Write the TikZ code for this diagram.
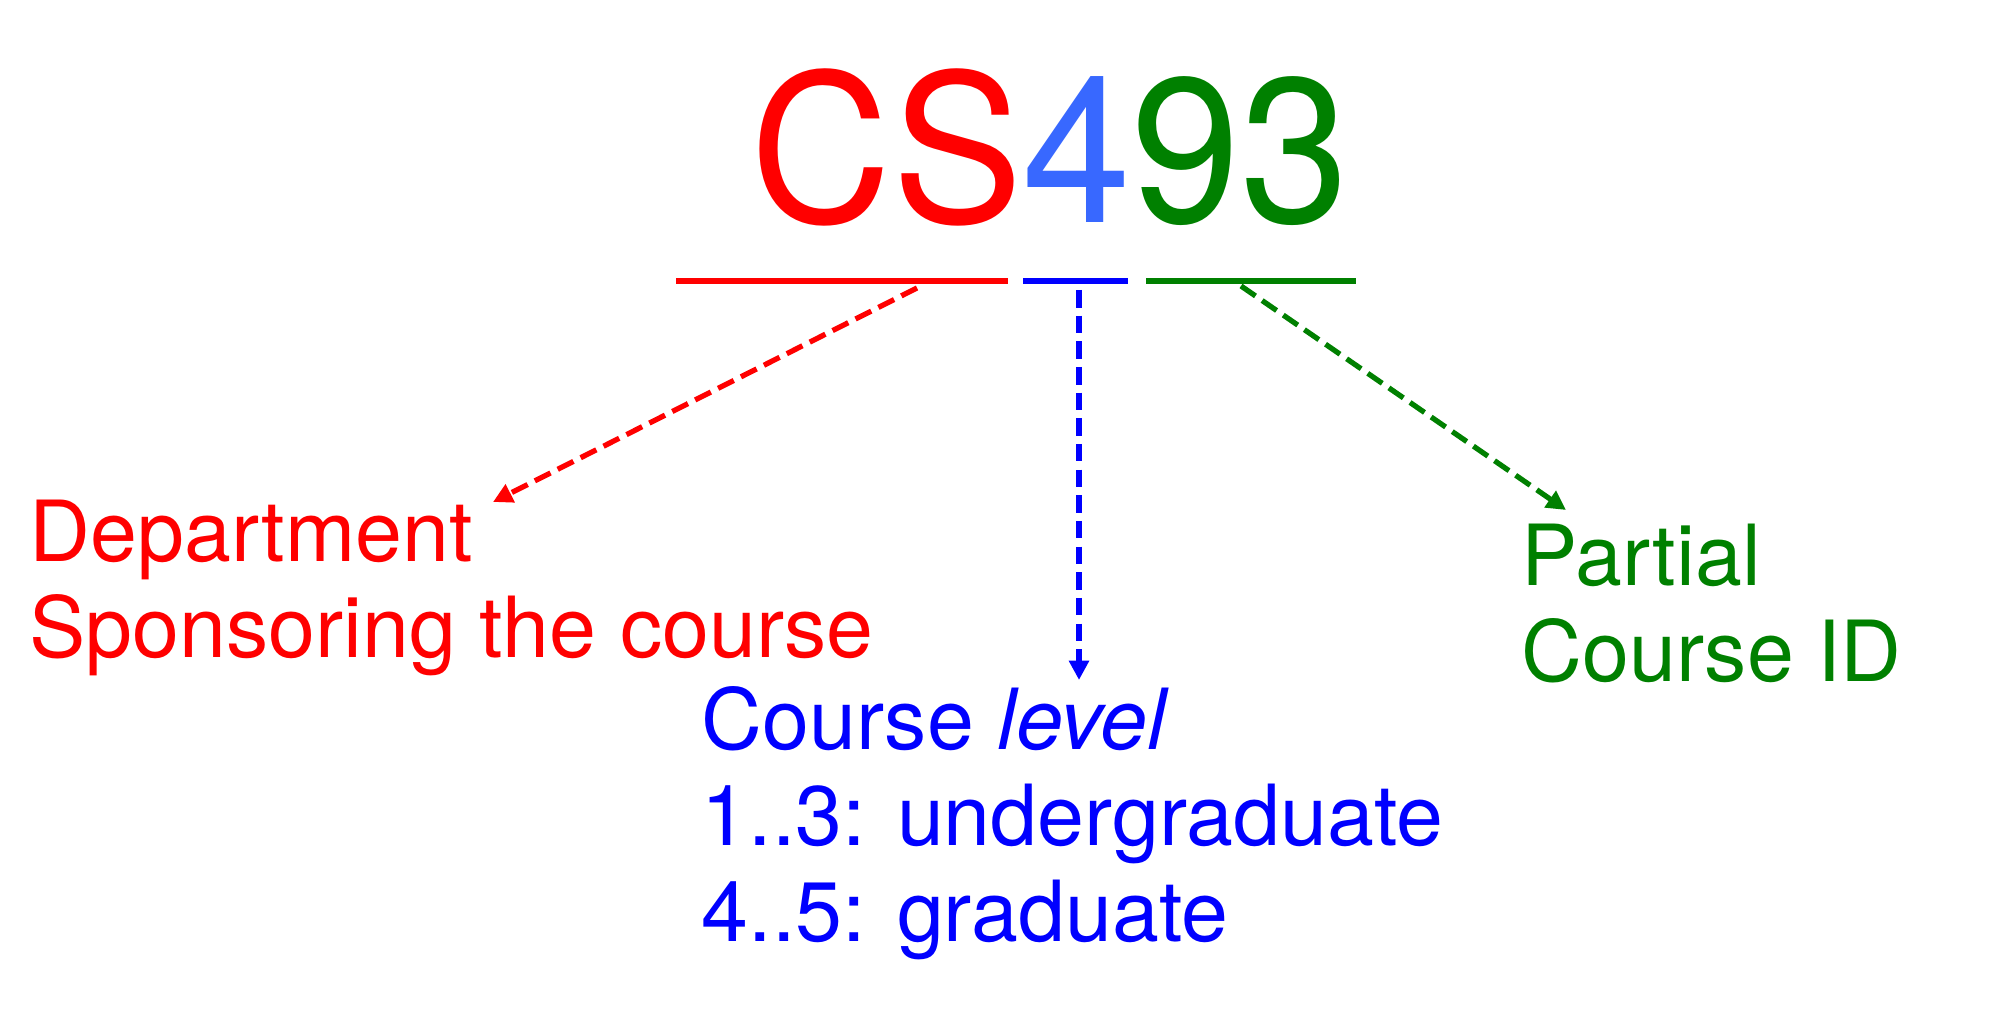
\documentclass[tikz,border=0pt]{standalone}
\usepackage{fontspec}
\setmainfont{TeX Gyre Heros}
\usepackage{graphicx}
\usetikzlibrary{arrows.meta}

\definecolor{deptred}{RGB}{255,0,0}
\definecolor{digitblue}{RGB}{56,104,255}
\definecolor{levelblue}{RGB}{0,0,255}
\definecolor{idgreen}{RGB}{0,128,0}

\begin{document}
\begin{tikzpicture}[
	desctext/.style={inner sep=0pt, anchor=base west, font=\fontsize{24}{27.3}\selectfont},
	underline/.style={line width=1.7pt},
	pointer/.style={line width=1.5pt, dash pattern=on 5pt off 2.3pt, -{Triangle[length=5.5pt,width=5.5pt]}}
	]
	
	\useasboundingbox (0,0) rectangle (20.07,10.20);
	
	% course number
	\node[inner sep=0pt, anchor=base west, font=\fontsize{58}{60}\selectfont] (code) at (7.50, 7.97)
		{\scalebox{0.96}[1.01]{\textcolor{deptred}{CS}\textcolor{digitblue}{4}\textcolor{idgreen}{93}}};
	
	% underlines
	\coordinate (deptL)  at (6.76, 7.39);
	\coordinate (deptR)  at (10.08, 7.39);
	\coordinate (levelL) at (10.23, 7.39);
	\coordinate (levelR) at (11.28, 7.39);
	\coordinate (idL)    at (11.46, 7.39);
	\coordinate (idR)    at (13.56, 7.39);
	
	\draw[underline, deptred]   (deptL)  -- (deptR);
	\draw[underline, levelblue] (levelL) -- (levelR);
	\draw[underline, idgreen]   (idL)    -- (idR);
	
	% descriptions
	\node[desctext, text=deptred] (dept) at (0.29, 4.58)
		{\begin{tabular}[t]{@{}l@{}}Department\\Sponsoring the course\end{tabular}};
	\node[desctext, text=levelblue] (level) at (7.01, 2.70)
		{\begin{tabular}[t]{@{}l@{}}Course \textit{level}\\1..3: undergraduate\\4..5: graduate\end{tabular}};
	\node[desctext, text=idgreen] (partial) at (15.21, 4.34)
		{\begin{tabular}[t]{@{}l@{}}Partial\\Course ID\end{tabular}};
	
	% pointers
	\coordinate (deptTap)  at (9.17, 7.32);
	\coordinate (deptTip)  at (4.93, 5.18);
	\coordinate (levelTap) at (10.79, 7.30);
	\coordinate (levelTip) at (10.79, 3.40);
	\coordinate (idTap)    at (12.41, 7.34);
	\coordinate (idTip)    at (15.66, 5.10);
	
	\draw[pointer, deptred]   (deptTap)  -- (deptTip);
	\draw[pointer, levelblue] (levelTap) -- (levelTip);
	\draw[pointer, idgreen]   (idTap)    -- (idTip);
	
\end{tikzpicture}
\end{document}
